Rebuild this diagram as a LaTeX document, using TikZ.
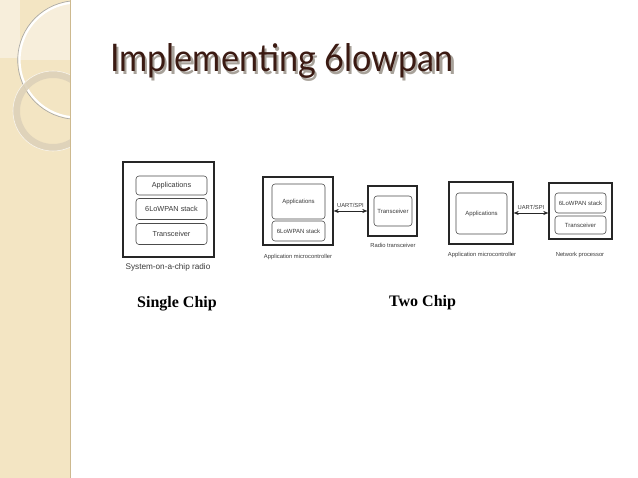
\documentclass[tikz,border=0pt]{standalone}
\usepackage{fontspec}
\setmainfont{Liberation Serif}
\setsansfont{Liberation Sans}
\newfontfamily\titlefont{Lato}
\usetikzlibrary{arrows.meta}
\definecolor{stripbg}{HTML}{F3E5C3}
\definecolor{stripedge}{HTML}{CDB98F}
\definecolor{striplight}{HTML}{F7EEDB}
\definecolor{ringcol}{HTML}{DDD2BA}
\definecolor{titlecol}{HTML}{3B1A12}
\definecolor{shadowcol}{HTML}{A8A29A}
\definecolor{diagtext}{HTML}{3A3A3A}
\tikzset{
  outerbox/.style={draw=black!85, line width=1.4pt, fill=white, inner sep=0pt},
  innerbox/.style={draw=black!70, line width=0.6pt, rounded corners=3pt, inner sep=0pt, text=diagtext, font=\sffamily\fontsize{6}{7}\selectfont},
  bigbox/.style={innerbox, font=\sffamily\fontsize{7.3}{8}\selectfont},
  caption/.style={text=diagtext, inner sep=0pt, font=\sffamily\fontsize{5.8}{7}\selectfont},
  bigcaption/.style={caption, font=\sffamily\fontsize{8.2}{9}\selectfont},
  link/.style={{Stealth[length=5pt,width=4pt]}-{Stealth[length=5pt,width=4pt]}, line width=0.5pt, draw=black!85},
  heading/.style={anchor=base west, inner sep=0pt, font=\bfseries\fontsize{16}{18}\selectfont}
}
\newcommand{\shadowtitle}[1]{\rlap{\hspace{2.5pt}\raisebox{-2.5pt}{\color{shadowcol}#1}}{\color{titlecol}#1}}
\begin{document}
\begin{tikzpicture}[x=1pt,y=-1pt]
\fill[white] (0,0) rectangle (638,478);
\useasboundingbox (0,0) rectangle (638,478);
% left decorative strip
\begin{scope}
\clip (0,0) rectangle (70,478);
\fill[stripbg] (0,0) rectangle (70,478);
\begin{scope}
\clip (0,0) rectangle (70,60);
\fill[striplight] (77,60) circle (59);
\fill[striplight] (0,0) rectangle (20,58);
\end{scope}
\draw[white, line width=2.2pt] (77,60) circle (57.5);
\draw[black!35, line width=0.6pt] (77,60) circle (59.3);
\draw[ringcol, line width=7pt, opacity=0.9] (53,111) circle (36.5);
\draw[white, line width=0.6pt, opacity=0.7] (53,111) circle (40);
\end{scope}
\draw[stripedge, line width=1.5pt] (70.5,0) -- (70.5,478);
\draw[white, line width=0.8pt] (72.3,0) -- (72.3,478);
% title
\node[anchor=base west, inner sep=0pt, xscale=0.9, font=\titlefont\fontsize{38}{44}\selectfont] (title) at (110,72) {\shadowtitle{Implementing 6lowpan}};
% single chip
\node[outerbox, minimum width=91pt, minimum height=95pt] (soc) at (168.5,209.5) {};
\node[bigbox, minimum width=71pt, minimum height=19pt] (socapp) at (171.5,185.5) {Applications};
\node[bigbox, minimum width=71pt, minimum height=21pt] (socstack) at (171.5,209) {6LoWPAN stack};
\node[bigbox, minimum width=71pt, minimum height=21pt] (soctrx) at (171.5,234) {Transceiver};
\node[bigcaption] (soccap) at (168,267) {System-on-a-chip radio};
% two chip, variant A
\node[outerbox, minimum width=70pt, minimum height=68pt] (mcua) at (298,211) {};
\node[innerbox, minimum width=53pt, minimum height=35pt] (appa) at (298.5,201.5) {Applications};
\node[innerbox, minimum width=53pt, minimum height=20pt] (stacka) at (298.5,231) {6LoWPAN stack};
\node[caption] (mcuacap) at (298,257) {Application microcontroller};
\node[outerbox, minimum width=49pt, minimum height=50pt] (radio) at (392.5,211) {};
\node[innerbox, minimum width=38pt, minimum height=30pt] (trxa) at (393,211) {Transceiver};
\node[caption] (radiocap) at (393,245) {Radio transceiver};
\draw[link] (mcua.east) -- node[caption, above=3pt] (uarta) {UART/SPI} (radio.west);
% two chip, variant B
\node[outerbox, minimum width=64pt, minimum height=62pt] (mcub) at (481,213) {};
\node[innerbox, minimum width=51pt, minimum height=41pt] (appb) at (481.5,213.5) {Applications};
\node[caption] (mcubcap) at (482,255) {Application microcontroller};
\node[outerbox, minimum width=63pt, minimum height=56pt] (netp) at (580.5,211) {};
\node[innerbox, minimum width=51pt, minimum height=20pt] (stackb) at (580.5,203) {6LoWPAN stack};
\node[innerbox, minimum width=51pt, minimum height=18pt] (trxb) at (580.5,225) {Transceiver};
\node[caption] (netpcap) at (580,255) {Network processor};
\draw[link] (mcub.east) -- node[caption, above=3pt] (uartb) {UART/SPI} (mcub.east -| netp.west);
% headings
\node[heading] (single) at (137,308) {Single Chip};
\node[heading] (two) at (389,307) {Two Chip};
\end{tikzpicture}
\end{document}
